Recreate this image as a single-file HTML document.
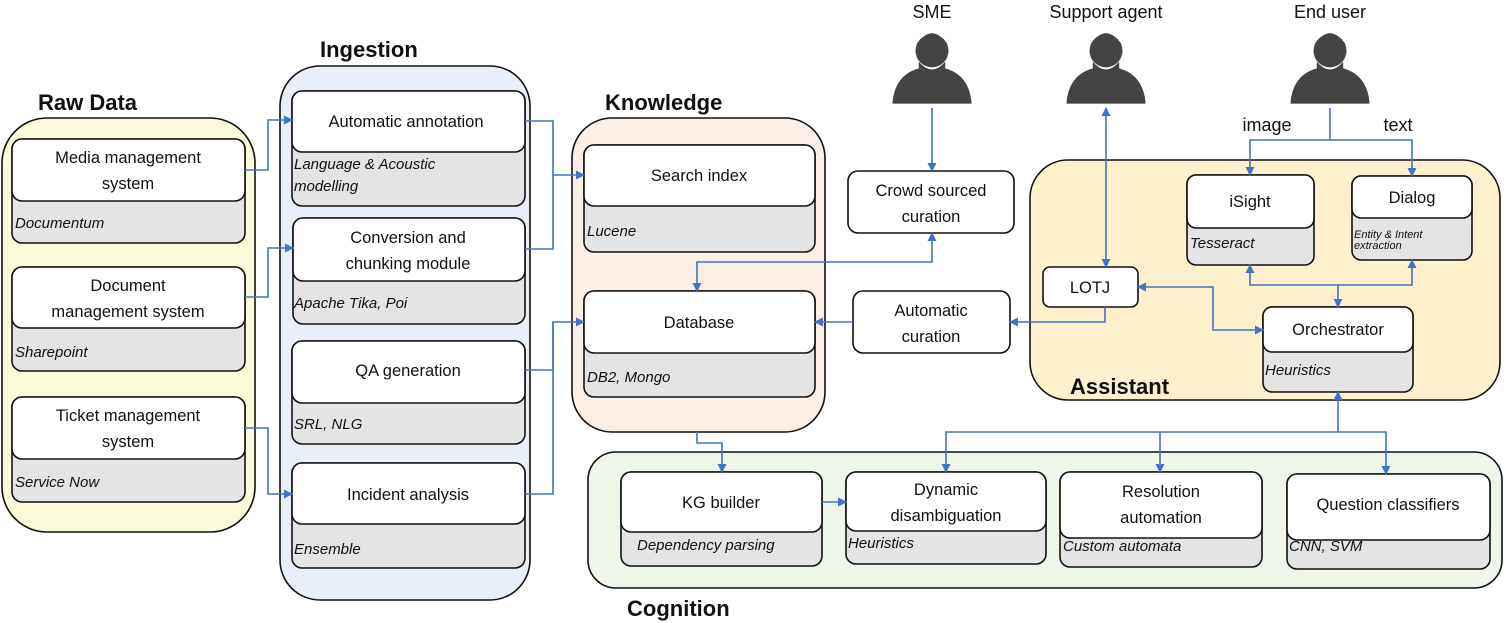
<!DOCTYPE html>
<html><head><meta charset="utf-8"><style>
html,body{margin:0;padding:0;background:#fff}
svg{display:block}
text{font-family:"Liberation Sans",sans-serif;fill:#111}
.t{font-size:16.5px;text-anchor:middle}
.i{font-size:15px;font-style:italic}
.h{font-size:22px;font-weight:bold}
.l{font-size:18px}
.w{fill:#fff;stroke:#111;stroke-width:1.6}
.g{fill:#e4e4e4;stroke:#111;stroke-width:1.6}
.c{fill:none;stroke:#4472c4;stroke-width:1.6}
</style></head><body>
<svg width="1506" height="623" viewBox="0 0 1506 623">
<defs><marker id="a" markerWidth="9" markerHeight="9" refX="8" refY="4.5" orient="auto" markerUnits="userSpaceOnUse"><path d="M0,0 L9,4.5 L0,9 z" fill="#4472c4"/></marker>
<marker id="b" markerWidth="9" markerHeight="9" refX="1" refY="4.5" orient="auto" markerUnits="userSpaceOnUse"><path d="M9,0 L0,4.5 L9,9 z" fill="#4472c4"/></marker>
<g id="p"><circle cx="0" cy="-12" r="15" fill="#444"/><path d="M-12,-2 Q0,12 12,-2 L12,4 Q34,10 36,36 L-36,36 Q-34,10 -12,4 z" fill="#444"/><path d="M-14,-18 Q0,-38 14,-18 L14,-8 Q0,14 -14,-8z" fill="#444"/></g></defs>

<rect x="2" y="118" width="253" height="414" rx="45" fill="#fbfbdc" stroke="#111" stroke-width="1.6"/>
<rect x="280" y="66" width="250" height="534" rx="40" fill="#e9eff8" stroke="#111" stroke-width="1.6"/>
<rect x="572" y="118" width="253" height="314" rx="40" fill="#fbeee5" stroke="#111" stroke-width="1.6"/>
<rect x="1030" y="160" width="470" height="240" rx="38" fill="#fdf0cc" stroke="#111" stroke-width="1.6"/>
<rect x="588" y="452" width="914" height="136" rx="28" fill="#eef5e9" stroke="#111" stroke-width="1.6"/>
<text class="h" x="38" y="110">Raw Data</text>
<text class="h" x="320" y="57">Ingestion</text>
<text class="h" x="605" y="110">Knowledge</text>
<text class="h" x="1070" y="394">Assistant</text>
<text class="h" x="627" y="616">Cognition</text>

<rect class="g" x="12" y="139" width="233" height="104" rx="10"/><rect class="w" x="12" y="139" width="233" height="62" rx="10"/>
<text class="t" x="128" y="163">Media management</text><text class="t" x="128" y="189">system</text><text class="i" x="15" y="228">Documentum</text>
<rect class="g" x="12" y="267" width="233" height="104" rx="10"/><rect class="w" x="12" y="267" width="233" height="61" rx="10"/>
<text class="t" x="128" y="291">Document</text><text class="t" x="128" y="317">management system</text><text class="i" x="15" y="357">Sharepoint</text>
<rect class="g" x="12" y="397" width="233" height="105" rx="10"/><rect class="w" x="12" y="397" width="233" height="62" rx="10"/>
<text class="t" x="128" y="421">Ticket management</text><text class="t" x="128" y="447">system</text><text class="i" x="15" y="487">Service Now</text>

<rect class="g" x="292" y="91" width="233" height="115" rx="10"/><rect class="w" x="292" y="91" width="233" height="61" rx="10"/>
<text class="t" x="406" y="127">Automatic annotation</text><text class="i" x="294" y="169">Language &amp; Acoustic</text><text class="i" x="294" y="191">modelling</text>
<rect class="g" x="293" y="218" width="232" height="106" rx="10"/><rect class="w" x="293" y="218" width="232" height="63" rx="10"/>
<text class="t" x="408" y="243">Conversion and</text><text class="t" x="408" y="269">chunking module</text><text class="i" x="294" y="308">Apache Tika, Poi</text>
<rect class="g" x="292" y="341" width="233" height="103" rx="10"/><rect class="w" x="292" y="341" width="233" height="62" rx="10"/>
<text class="t" x="408" y="376">QA generation</text><text class="i" x="294" y="429">SRL, NLG</text>
<rect class="g" x="292" y="463" width="233" height="105" rx="10"/><rect class="w" x="292" y="463" width="233" height="61" rx="10"/>
<text class="t" x="408" y="500">Incident analysis</text><text class="i" x="294" y="554">Ensemble</text>

<rect class="g" x="584" y="145" width="231" height="107" rx="10"/><rect class="w" x="584" y="145" width="231" height="61" rx="10"/>
<text class="t" x="699" y="181">Search index</text><text class="i" x="587" y="236">Lucene</text>
<rect class="g" x="584" y="291" width="231" height="106" rx="10"/><rect class="w" x="584" y="291" width="231" height="62" rx="10"/>
<text class="t" x="699" y="328">Database</text><text class="i" x="587" y="382">DB2, Mongo</text>

<rect class="w" x="848" y="171" width="166" height="62" rx="10"/><text class="t" x="931" y="196">Crowd sourced</text><text class="t" x="931" y="222">curation</text>
<rect class="w" x="853" y="291" width="157" height="62" rx="10"/><text class="t" x="931" y="316">Automatic</text><text class="t" x="931" y="342">curation</text>
<rect class="w" x="1043" y="267" width="95" height="40" rx="7"/><text class="t" x="1090" y="293">LOTJ</text>

<rect class="g" x="1187" y="175" width="127" height="90" rx="9"/><rect class="w" x="1187" y="175" width="127" height="53" rx="9"/>
<text class="t" x="1250" y="207">iSight</text><text class="i" x="1190" y="248">Tesseract</text>
<rect class="g" x="1352" y="176" width="120" height="84" rx="9"/><rect class="w" x="1352" y="176" width="120" height="42" rx="9"/>
<text class="t" x="1412" y="203">Dialog</text><text class="i" style="font-size:11px" x="1354" y="238">Entity &amp; Intent</text><text class="i" style="font-size:11px" x="1354" y="249">extraction</text>
<rect class="g" x="1263" y="307" width="150" height="85" rx="9"/><rect class="w" x="1263" y="307" width="150" height="45" rx="9"/>
<text class="t" x="1338" y="335">Orchestrator</text><text class="i" x="1265" y="375">Heuristics</text>

<rect class="g" x="621" y="472" width="201" height="94" rx="10"/><rect class="w" x="621" y="472" width="201" height="60" rx="10"/>
<text class="t" x="721" y="508">KG builder</text><text class="i" x="637" y="550">Dependency parsing</text>
<rect class="g" x="846" y="472" width="200" height="92" rx="10"/><rect class="w" x="846" y="472" width="200" height="59" rx="10"/>
<text class="t" x="946" y="495">Dynamic</text><text class="t" x="946" y="521">disambiguation</text><text class="i" x="848" y="548">Heuristics</text>
<rect class="g" x="1060" y="472" width="202" height="95" rx="10"/><rect class="w" x="1060" y="472" width="202" height="66" rx="10"/>
<text class="t" x="1161" y="497">Resolution</text><text class="t" x="1161" y="523">automation</text><text class="i" x="1063" y="551">Custom automata</text>
<rect class="g" x="1287" y="474" width="203" height="95" rx="10"/><rect class="w" x="1287" y="474" width="203" height="66" rx="10"/>
<text class="t" x="1388" y="510">Question classifiers</text><text class="i" x="1289" y="551">CNN, SVM</text>

<text class="l" x="932" y="18" text-anchor="middle">SME</text>
<text class="l" x="1106" y="18" text-anchor="middle">Support agent</text>
<text class="l" x="1330" y="18" text-anchor="middle">End user</text>
<use href="#p" transform="translate(932,64) scale(1.1)"/><use href="#p" transform="translate(1106,64) scale(1.1)"/><use href="#p" transform="translate(1330,64) scale(1.1)"/>
<text class="l" x="1267" y="131" text-anchor="middle">image</text>
<text class="l" x="1398" y="131" text-anchor="middle">text</text>

<path class="c" d="M245,170 H268 V120 H292" marker-end="url(#a)"/>
<path class="c" d="M245,297 H268 V248 H293" marker-end="url(#a)"/>
<path class="c" d="M245,428 H268 V494 H292" marker-end="url(#a)"/>
<path class="c" d="M525,121 H553 V175 H584" marker-end="url(#a)"/>
<path class="c" d="M525,249 H553 V175"/>
<path class="c" d="M525,370 H553 V322 H584" marker-end="url(#a)"/>
<path class="c" d="M525,494 H553 V322"/>
<path class="c" d="M697,291 V262 H932 V233" marker-start="url(#b)" marker-end="url(#a)"/>
<path class="c" d="M932,108 V171" marker-end="url(#a)"/>
<path class="c" d="M853,322 H815" marker-end="url(#a)"/>
<path class="c" d="M1105,307 V322 H1010" marker-end="url(#a)"/>
<path class="c" d="M1106,108 V267" marker-start="url(#b)" marker-end="url(#a)"/>
<path class="c" d="M1330,108 V140 H1250 V175" marker-end="url(#a)"/>
<path class="c" d="M1330,140 H1412 V176" marker-end="url(#a)"/>
<path class="c" d="M1250,265 V285 H1412 V260" marker-start="url(#b)" marker-end="url(#a)"/>
<path class="c" d="M1338,285 V307" marker-end="url(#a)"/>
<path class="c" d="M1138,287 H1213 V330 H1263" marker-start="url(#b)" marker-end="url(#a)"/>
<path class="c" d="M1338,392 V432" marker-start="url(#b)"/>
<path class="c" d="M946,472 V432 H1386 V474" marker-start="url(#b)" marker-end="url(#a)"/>
<path class="c" d="M1160,432 V472" marker-end="url(#a)"/>
<path class="c" d="M697,432 V443 H722 V472" marker-end="url(#a)"/>
<path class="c" d="M822,502 H846" marker-end="url(#a)"/>
</svg>
</body></html>
